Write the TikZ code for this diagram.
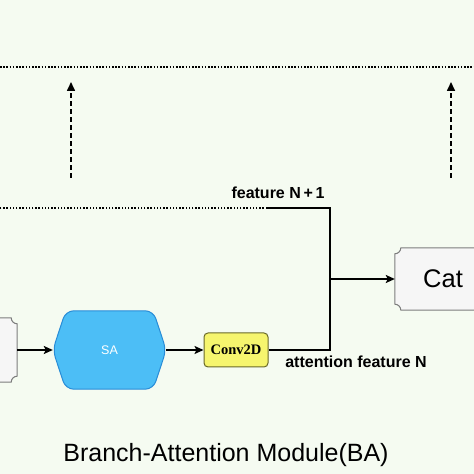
\documentclass[tikz,border=0pt]{standalone}
\usepackage{fontspec}
\setmainfont{Liberation Sans}
\newfontfamily\timesbf{Liberation Serif}
\usetikzlibrary{arrows.meta,backgrounds}

\definecolor{bgcol}{RGB}{245,251,241}
\definecolor{safill}{RGB}{76,190,246}
\definecolor{sadraw}{RGB}{40,140,215}
\definecolor{convfill}{RGB}{246,245,110}
\definecolor{convdraw}{RGB}{105,105,40}
\definecolor{boxfill}{RGB}{246,246,246}
\definecolor{boxdraw}{RGB}{125,125,125}

\tikzset{
  line/.style={line width=1.7pt},
  arr/.style={line, -{Stealth[length=9pt,width=8pt,inset=2pt]}},
  dasharr/.style={line width=1.6pt, dash pattern=on 5pt off 3pt,
    -{Triangle[length=9pt,width=8pt]}},
  sep/.style={line width=1.6pt, dash pattern=on 1.5pt off 1.7pt},
  lab/.style={font=\bfseries\fontsize{16}{18}\selectfont}
}

\begin{document}
\begin{tikzpicture}[x=1pt,y=1pt]
  \useasboundingbox (0,0) rectangle (474,474);
  \node[minimum width=60pt, minimum height=64pt, inner sep=0pt] (inbox) at (-13,124) {};
  \node[minimum width=113pt, minimum height=78pt, inner sep=0pt, text=white,
    font=\fontsize{12.5}{14}\selectfont] (sa) at (109.5,124) {SA};
  \node[draw=convdraw, fill=convfill, line width=1pt, rounded corners=4pt,
    minimum width=64pt, minimum height=34pt, inner sep=0pt,
    font=\timesbf\bfseries\fontsize{14.5}{16}\selectfont] (conv) at (236,124) {Conv2D};
  \node[minimum width=96pt, minimum height=62pt, inner sep=0pt,
    font=\fontsize{25.5}{28}\selectfont] (cat) at (443,195) {Cat};
  \begin{scope}[on background layer]
    \fill[bgcol] (0,0) rectangle (474,474);
    \draw[fill=boxfill, draw=boxdraw, line width=1pt] (inbox.north west)
      -- ([xshift=-6pt]inbox.north east) arc[start angle=180, end angle=270, radius=6pt]
      -- ([yshift=6pt]inbox.south east) arc[start angle=90, end angle=180, radius=6pt]
      -- (inbox.south west) -- cycle;
    \draw[fill=safill, draw=sadraw, line width=1pt, rounded corners=8pt] (sa.west)
      -- ([xshift=13pt]sa.north west) -- ([xshift=-13pt]sa.north east) -- (sa.east)
      -- ([xshift=-13pt]sa.south east) -- ([xshift=13pt]sa.south west) -- cycle;
    \draw[fill=boxfill, draw=boxdraw, line width=1pt] (cat.north east)
      -- ([xshift=6pt]cat.north west) arc[start angle=0, end angle=-90, radius=6pt]
      -- ([yshift=6pt]cat.south west) arc[start angle=90, end angle=0, radius=6pt]
      -- (cat.south east) -- cycle;
  \end{scope}

  % separators and upward branches
  \draw[sep] (0,407) -- (474,407);
  \coordinate (up1) at (71,296);  \coordinate (up1e) at (71,392);
  \coordinate (up2) at (451,296); \coordinate (up2e) at (451,392);
  \draw[dasharr] (up1) -- (up1e);
  \draw[dasharr] (up2) -- (up2e);

  % main path
  \draw[arr] (inbox.east) -- (sa.west);
  \draw[arr] (sa.east) -- (conv.west);
  \coordinate (merge) at (330,124);
  \coordinate (corner) at (330,266);
  \coordinate (split) at (330,195);
  \draw[line] (conv.east) -- (merge) -- (corner) -- ++(-63,0) coordinate (feat);
  \draw[sep] (feat) -- (0,266);
  \draw[arr] (split) -- (cat.west);
  \node[lab] (featlab) at (278,281) {feature N\,+\,1};
  \node[lab] (attlab) at (356,112) {attention feature N};

  \node[font=\fontsize{25}{28}\selectfont] (title) at (226,19) {Branch-Attention Module(BA)};
\end{tikzpicture}
\end{document}
